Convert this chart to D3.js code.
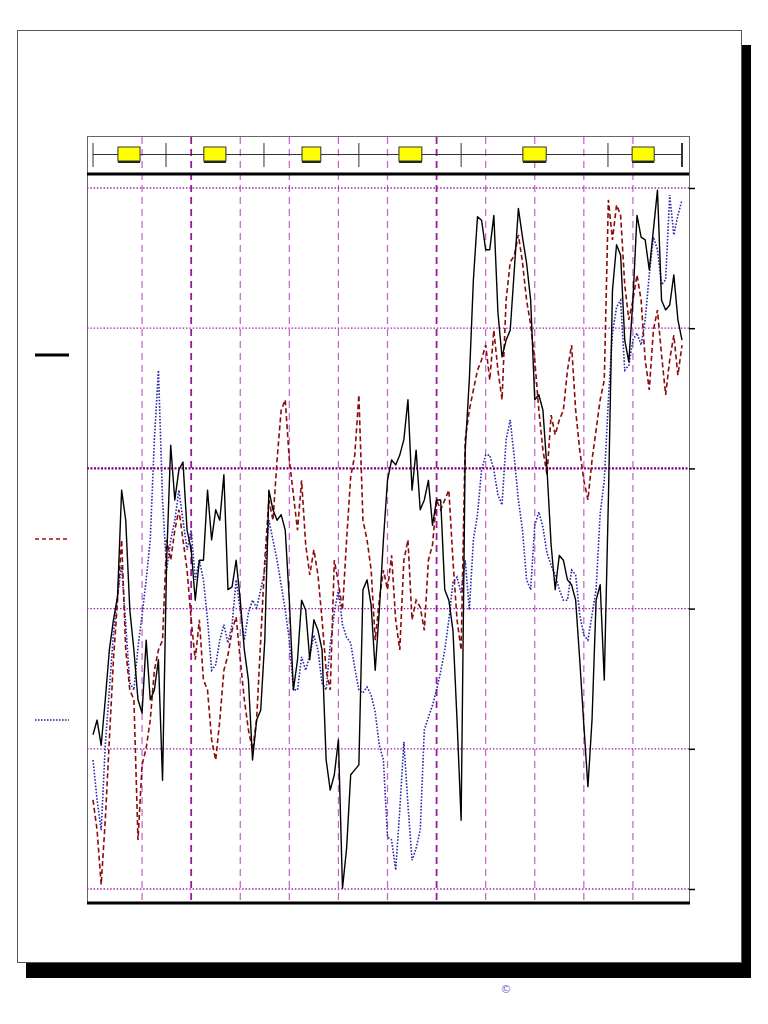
<!DOCTYPE html>
<html>
<head>
<meta charset="utf-8">
<script src="https://cdn.jsdelivr.net/npm/d3@7"></script>
<style>
  html, body { margin: 0; padding: 0; background: #fff; }
  svg { display: block; }
</style>
</head>
<body>
<svg id="chart" width="768" height="1024"></svg>
<script>
// ---------------- DATA ----------------
// monthly observations (145 months, 12 years)
const months = d3.range(145);

const seriesSolid = [
22.0,24.1,20.5,27.0,34.1,38.4,41.7,56.9,52.6,39.8,34.1,27.0,25.1,35.5,27.0,28.4,32.7,15.5,46.9,63.3,
55.5,59.8,60.9,51.2,48.4,41.2,46.9,46.9,56.9,49.8,54.1,52.6,59.1,42.7,43.1,46.9,41.2,34.1,29.8,18.4,
24.1,25.5,35.5,56.9,54.1,52.6,53.4,51.2,41.2,28.4,32.7,41.2,39.8,32.7,38.4,36.9,34.1,18.4,14.1,16.3,
21.3,0.1,5.8,16.3,17.0,17.7,42.7,44.1,40.5,31.2,39.8,49.8,58.3,61.2,60.5,61.9,64.1,69.8,56.9,62.6,
54.1,55.5,58.3,51.9,55.5,55.5,42.7,41.2,36.9,24.1,9.8,62.6,72.6,86.9,95.9,95.4,91.2,91.2,96.1,82.2,
75.9,78.3,79.7,88.3,97.1,93.0,89.3,84.0,69.8,70.5,68.3,59.8,49.1,42.7,47.6,46.9,44.1,43.4,41.2,32.7,
23.4,14.6,24.1,41.2,43.4,29.8,55.5,85.4,91.9,90.4,78.3,75.2,84.0,96.1,93.0,92.6,88.3,94.0,99.7,84.0,
82.6,83.3,87.6,81.2,78.3];

const seriesDashed = [
12.7,8.4,0.6,9.8,21.3,32.7,41.2,49.8,34.1,28.4,27.0,7.0,17.7,20.1,24.1,31.2,34.1,35.5,49.8,46.9,
51.2,54.1,49.8,45.5,38.4,32.7,38.4,29.8,28.4,21.3,18.4,24.1,31.2,33.4,36.9,38.8,32.7,27.0,22.7,19.8,
24.1,35.5,46.9,55.5,52.6,61.2,68.3,69.8,61.2,56.2,51.2,58.3,49.1,44.8,48.4,44.8,38.4,31.2,28.4,46.9,
43.7,39.8,49.8,58.8,61.9,70.5,52.6,49.8,45.5,35.5,41.2,45.5,42.7,47.6,38.4,34.1,46.9,49.8,38.4,41.2,
40.2,36.9,46.9,49.1,55.5,54.1,55.5,56.9,46.9,38.4,34.1,64.1,68.3,71.2,74.0,75.5,77.6,72.6,79.7,74.0,
69.8,84.0,89.4,90.4,93.3,89.4,84.0,80.5,75.5,68.3,62.6,59.1,67.6,64.8,66.9,68.3,74.0,77.6,68.3,62.6,
58.3,55.5,61.2,65.5,69.8,72.6,98.3,92.6,97.6,96.1,86.2,81.2,84.0,87.6,84.0,75.5,71.2,79.7,82.6,76.2,
70.5,75.5,79.0,73.3,77.6];

const seriesDotted = [
18.4,12.7,8.4,20.5,28.4,36.5,41.9,46.2,37.7,29.4,28.4,34.5,39.1,44.1,49.8,64.1,74.0,55.5,45.5,49.8,
52.6,56.9,52.6,48.4,51.2,44.1,46.9,44.1,38.4,31.2,32.0,35.5,37.7,35.1,37.7,44.1,39.8,35.5,39.4,41.2,
40.1,42.7,45.5,52.6,49.8,46.9,43.4,39.8,35.5,28.4,28.4,33.1,31.2,33.4,36.2,34.1,29.4,28.4,34.8,39.5,
42.7,37.7,35.9,35.1,31.5,28.4,28.0,28.8,27.7,25.2,20.5,18.4,7.4,7.0,2.7,11.3,21.0,12.0,4.1,5.8,
8.4,22.7,24.5,26.2,28.4,31.0,34.1,38.4,43.7,44.5,42.2,46.9,39.8,49.8,53.4,59.8,61.9,61.9,59.8,56.2,
54.8,64.1,66.9,61.5,55.5,51.2,44.1,42.7,51.9,53.8,51.6,47.9,46.2,44.8,42.7,41.2,41.2,45.5,44.8,39.1,
36.2,35.5,39.1,42.7,53.6,58.3,69.8,79.3,83.0,84.0,74.0,74.7,78.3,79.3,77.6,81.2,87.6,93.0,91.2,86.2,
86.9,99.0,93.3,96.1,98.3];

// y gridline levels
const yLevels = [0, 20, 40, 60, 80, 100];
const yStrong = [60];
// year boundaries (month index)
const yearMarks = [12, 24, 36, 48, 60, 72, 84, 96, 108, 120, 132];
const yearStrong = [24, 84];
// timeline band: segment boundaries and highlighted periods (month index)
const bandTicks = [0, 17.85, 41.8, 65.0, 90.0, 125.9, 144];
const bandBoxes = [[6.1, 11.5], [27.1, 32.5], [51.1, 55.7], [74.8, 80.4], [105.1, 110.8], [131.8, 137.2]];

// ---------------- DRAW ----------------
const svg = d3.select("#chart");

// page frame with shadow
svg.append("rect").attr("x", 26).attr("y", 45).attr("width", 725).attr("height", 933).attr("fill", "#000");
svg.append("rect").attr("x", 17.5).attr("y", 30.5).attr("width", 724).attr("height", 932)
  .attr("fill", "#fff").attr("stroke", "#555").attr("stroke-width", 1);

const L = 87, R = 689, bandTop = 136, plotTop = 174, plotBottom = 903;

const x = d3.scaleLinear().domain([0, 144]).range([93, 682]);
const y = d3.scaleLinear().domain([0, 100]).range([889, 188]);

// frame of plot + band
svg.append("rect").attr("x", L + 0.5).attr("y", bandTop + 0.5).attr("width", R - L).attr("height", plotBottom - bandTop)
  .attr("fill", "#fff").attr("stroke", "#666").attr("stroke-width", 1);

// vertical year lines (through band and plot)
const gV = svg.append("g");
gV.selectAll("line").data(yearMarks).join("line")
  .attr("x1", d => x(d)).attr("x2", d => x(d))
  .attr("y1", bandTop + 1).attr("y2", plotBottom)
  .attr("stroke", d => yearStrong.includes(d) ? "#9a1a9a" : "#c060c6")
  .attr("stroke-width", d => yearStrong.includes(d) ? 1.8 : 1.2)
  .attr("stroke-dasharray", "7,5");

// horizontal dotted gridlines
const gH = svg.append("g");
gH.selectAll("line").data(yLevels).join("line")
  .attr("x1", L).attr("x2", R)
  .attr("y1", d => y(d)).attr("y2", d => y(d))
  .attr("stroke", d => yStrong.includes(d) ? "#800080" : "#a020a8")
  .attr("stroke-width", d => yStrong.includes(d) ? 2.2 : 1.3)
  .attr("stroke-dasharray", d => yStrong.includes(d) ? "2,1.5" : "1.5,1.8");

// right-side ticks
const yAxis = d3.axisRight(y).tickValues(yLevels).tickSize(6).tickFormat("");
const gA = svg.append("g").attr("transform", `translate(${R},0)`).call(yAxis);
gA.select(".domain").remove();
gA.selectAll(".tick line").attr("stroke", "#000").attr("stroke-width", 1.5);

// timeline band
svg.append("line").attr("x1", x(0)).attr("x2", x(144)).attr("y1", 154.5).attr("y2", 154.5)
  .attr("stroke", "#333").attr("stroke-width", 1);
svg.append("g").selectAll("line").data(bandTicks).join("line")
  .attr("x1", d => x(d)).attr("x2", d => x(d))
  .attr("y1", 143).attr("y2", 167)
  .attr("stroke", "#333")
  .attr("stroke-width", (d, i) => i === bandTicks.length - 1 ? 2 : 1);
const gB = svg.append("g");
gB.selectAll("rect.sh").data(bandBoxes).join("rect").attr("class", "sh")
  .attr("x", d => x(d[0])).attr("y", 148)
  .attr("width", d => x(d[1]) - x(d[0])).attr("height", 15)
  .attr("fill", "#222");
gB.selectAll("rect.bx").data(bandBoxes).join("rect").attr("class", "bx")
  .attr("x", d => x(d[0])).attr("y", 147)
  .attr("width", d => x(d[1]) - x(d[0])).attr("height", 14)
  .attr("fill", "#ffff00").attr("stroke", "#333").attr("stroke-width", 1);

// thick separators
svg.append("line").attr("x1", L).attr("x2", R).attr("y1", plotTop).attr("y2", plotTop)
  .attr("stroke", "#000").attr("stroke-width", 3);
svg.append("line").attr("x1", L).attr("x2", R + 1).attr("y1", plotBottom).attr("y2", plotBottom)
  .attr("stroke", "#000").attr("stroke-width", 3);

// series
const line = d3.line().x((d, i) => x(months[i])).y(d => y(d));
svg.append("path").datum(seriesDotted).attr("d", line)
  .attr("fill", "none").attr("stroke", "#2828a8").attr("stroke-width", 1.6)
  .attr("stroke-dasharray", "1.6,1.6");
svg.append("path").datum(seriesDashed).attr("d", line)
  .attr("fill", "none").attr("stroke", "#8b0a0a").attr("stroke-width", 1.6)
  .attr("stroke-dasharray", "5,3");
svg.append("path").datum(seriesSolid).attr("d", line)
  .attr("fill", "none").attr("stroke", "#000").attr("stroke-width", 1.4)
  .attr("stroke-linejoin", "round");

// legend samples
const legend = [
  { y: 355, stroke: "#000", dash: null, w: 2.8 },
  { y: 539, stroke: "#9b1010", dash: "4,3", w: 1.6 },
  { y: 720, stroke: "#2828a8", dash: "1.6,1.4", w: 1.6 }
];
svg.append("g").selectAll("line").data(legend).join("line")
  .attr("x1", 35).attr("x2", 69).attr("y1", d => d.y).attr("y2", d => d.y)
  .attr("stroke", d => d.stroke).attr("stroke-width", d => d.w)
  .attr("stroke-dasharray", d => d.dash);

// copyright
svg.append("text").attr("x", 506).attr("y", 993).attr("text-anchor", "middle")
  .attr("font-family", "DejaVu Sans, sans-serif").attr("font-size", 11)
  .attr("fill", "#6a6ac8").text("©");
</script>
</body>
</html>
